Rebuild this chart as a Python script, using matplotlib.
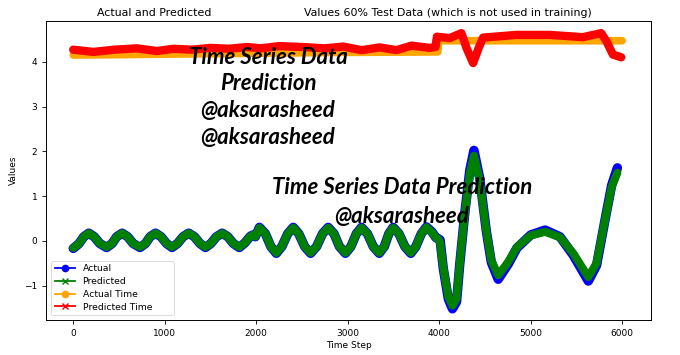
#!/usr/bin/env python3

import matplotlib.pyplot as plt
from matplotlib.lines import Line2D


# Data. Lower pair: actual / predicted values.
steps = [0, 60, 115, 170, 230, 290, 365, 425, 475, 535, 595, 655, 730, 790,
         840, 900, 960, 1020, 1080, 1140, 1200, 1262, 1325, 1385, 1445, 1505,
         1565, 1628, 1690, 1750, 1815, 1875, 1935, 1965, 1990, 2035, 2100,
         2160, 2220, 2280, 2345, 2405, 2465, 2530, 2595, 2660, 2725, 2787,
         2850, 2910, 2975, 3035, 3095, 3151, 3215, 3280, 3345, 3400, 3450,
         3497, 3560, 3625, 3690, 3745, 3805, 3861, 3920, 3965, 3995, 4010,
         4045, 4100, 4145, 4190, 4225, 4280, 4335, 4380, 4443, 4515, 4570,
         4645, 4755, 4850, 5000, 5158, 5320, 5465, 5630, 5720, 5812, 5885,
         5948]

actual = [-0.17, -0.07, 0.09, 0.17, 0.09, -0.06, -0.15, -0.06, 0.09, 0.17,
          0.09, -0.06, -0.15, -0.06, 0.09, 0.17, 0.09, -0.06, -0.15, -0.06,
          0.09, 0.17, 0.09, -0.06, -0.15, -0.06, 0.09, 0.17, 0.09, -0.06,
          -0.15, -0.05, 0.10, 0.13, 0.09, 0.30, 0.16, -0.13, -0.28, -0.13,
          0.16, 0.30, 0.16, -0.13, -0.28, -0.13, 0.16, 0.30, 0.16, -0.13,
          -0.28, -0.13, 0.16, 0.30, 0.16, -0.13, -0.28, -0.13, 0.16, 0.30,
          0.16, -0.13, -0.28, -0.13, 0.16, 0.31, 0.20, 0.07, 0.04, 0.02,
          -0.62, -1.30, -1.52, -1.36, -0.52, 0.62, 1.58, 2.02, 1.40, 0.22,
          -0.48, -0.86, -0.52, -0.16, 0.13, 0.24, 0.09, -0.32, -0.90, -0.55,
          0.46, 1.24, 1.63]

predicted = [-0.16, -0.07, 0.09, 0.17, 0.09, -0.06, -0.14, -0.06, 0.09, 0.17,
             0.09, -0.06, -0.14, -0.06, 0.09, 0.17, 0.09, -0.06, -0.14, -0.06,
             0.09, 0.17, 0.09, -0.06, -0.14, -0.06, 0.09, 0.17, 0.09, -0.06,
             -0.14, -0.05, 0.10, 0.13, 0.09, 0.29, 0.16, -0.13, -0.27, -0.13,
             0.16, 0.29, 0.16, -0.13, -0.27, -0.13, 0.16, 0.29, 0.16, -0.13,
             -0.27, -0.13, 0.16, 0.29, 0.16, -0.13, -0.27, -0.13, 0.16, 0.29,
             0.16, -0.13, -0.27, -0.13, 0.16, 0.30, 0.19, 0.07, 0.03, -0.05,
             -0.60, -1.25, -1.45, -1.30, -0.50, 0.60, 1.50, 1.90, 1.35, 0.22,
             -0.44, -0.77, -0.47, -0.14, 0.12, 0.20, 0.08, -0.28, -0.81, -0.50,
             0.46, 1.20, 1.52]

# Upper pair: actual time / predicted time.
time_steps = [0, 1000, 2000, 3000, 3985, 3995, 6000]
actual_time = [4.15, 4.17, 4.19, 4.21, 4.22, 4.47, 4.47]

pred_steps = [0, 220, 450, 695, 914, 1093, 1300, 1500, 1700, 1900, 2050,
              2250, 2500, 2750, 2950, 3151, 3351, 3533, 3697, 3897, 3960,
              3975, 4116, 4243, 4300, 4371, 4430, 4480, 4843, 5207, 5571,
              5771, 5830, 5899, 5990]
pred_time = [4.27, 4.22, 4.27, 4.30, 4.24, 4.29, 4.27, 4.31, 4.29, 4.33,
             4.30, 4.35, 4.33, 4.30, 4.34, 4.26, 4.32, 4.26, 4.36, 4.31,
             4.33, 4.56, 4.53, 4.64, 4.30, 3.97, 4.30, 4.54, 4.60, 4.60,
             4.55, 4.64, 4.45, 4.16, 4.10]

labels = ['Actual', 'Predicted', 'Actual Time', 'Predicted Time']
colors = ['blue', 'green', 'orange', 'red']
markers = ['o', 'x', 'o', 'x']


# Figure.
fig = plt.figure(figsize=(6.8, 3.55), dpi=100)
ax = fig.add_axes((0.068, 0.0986, 0.89, 0.8434))

# Dense markers in the original look like thick bands.
band = dict(solid_capstyle='round', solid_joinstyle='round')
ax.plot(steps, actual, color='blue', lw=6.8, **band)
ax.plot(steps, predicted, color='green', lw=5.8, **band)
ax.plot(time_steps, actual_time, color='orange', lw=5.5, **band)
ax.plot(pred_steps, pred_time, color='red', lw=6.0, **band)

ax.set_xlim(-295, 6320)
ax.set_ylim(-1.77, 4.92)
ax.tick_params(labelsize=6.5, length=3, width=0.6)
for s in ax.spines.values():
    s.set_linewidth(0.7)
ax.set_xlabel('Time Step', fontsize=6.5, labelpad=2)
ax.set_ylabel('Values', fontsize=6.5, labelpad=4)

# Title in two pieces.
ax.text(0.178, 1 + 8 / 299, 'Actual and Predicted', transform=ax.transAxes,
        ha='center', va='center', fontsize=7.9)
ax.text(0.663, 1 + 8 / 299,
        'Values 60% Test Data (which is not used in training)',
        transform=ax.transAxes, ha='center', va='center', fontsize=7.9)

# Legend with thin line + marker handles.
handles = [Line2D([], [], color=c, marker=m, lw=1.3, markersize=4.5)
           for c, m in zip(colors, markers)]
leg = ax.legend(handles, [labels[0], labels[1], labels[2], labels[3] + '      '],
                loc='lower left', fontsize=6.7, handlelength=2.2,
                borderaxespad=0.5, labelspacing=0.4, borderpad=0.4)
leg.get_frame().set_linewidth(0.6)

# Watermarks.
wm = dict(family=['Lato', 'DejaVu Sans'], fontweight='bold', style='italic',
          ha='center', va='center', color='black', zorder=10)
for y, t in zip([58, 84, 111, 138],
                ['Time Series Data', 'Prediction', '@aksarasheed',
                 '@aksarasheed']):
    fig.text(268 / 680, 1 - y / 355, t, fontsize=16, **wm)
for y, t in zip([188, 216], ['Time Series Data Prediction', '@aksarasheed']):
    fig.text(402 / 680, 1 - y / 355, t, fontsize=16, **wm)

fig.savefig('out.png', dpi=100)
